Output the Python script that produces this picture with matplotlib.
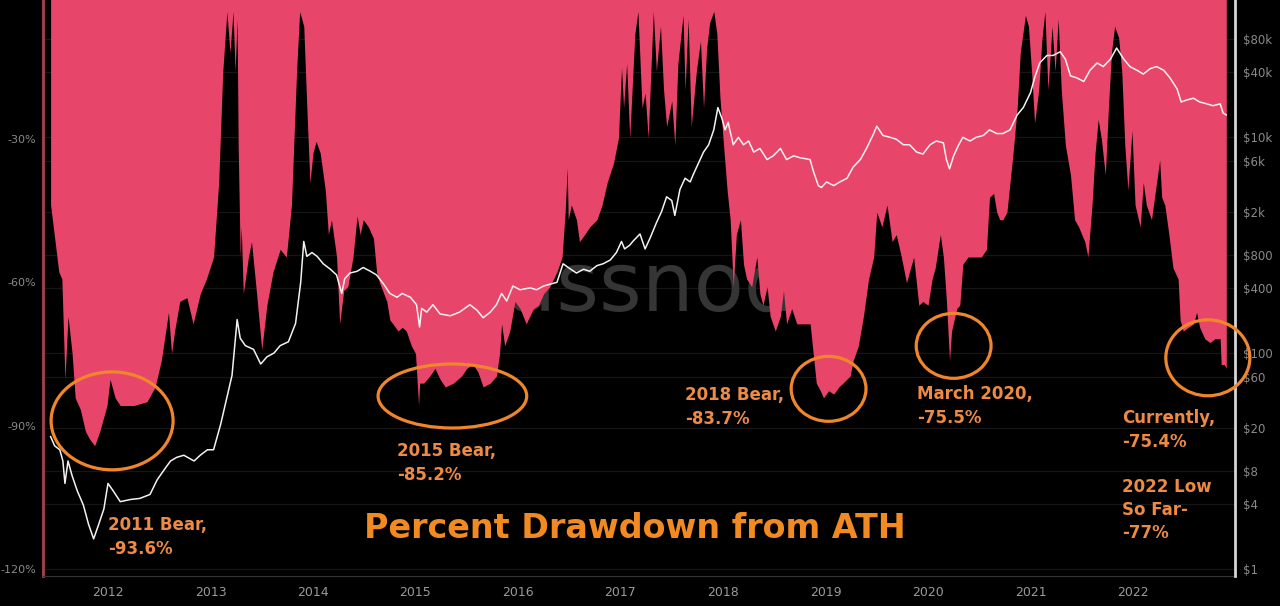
import matplotlib
matplotlib.use("Agg")
import matplotlib.pyplot as plt
from matplotlib.patches import Ellipse
from matplotlib.transforms import blended_transform_factory
from matplotlib.ticker import NullLocator

# ---------------- data ----------------
dd_year = [2011.44, 2011.48, 2011.52, 2011.55, 2011.58, 2011.61, 2011.65, 2011.68, 2011.73, 2011.78,
           2011.82, 2011.87, 2011.92, 2011.99, 2012.02, 2012.07, 2012.12, 2012.25, 2012.38, 2012.46,
           2012.52, 2012.59, 2012.62, 2012.65, 2012.70, 2012.77, 2012.83, 2012.90, 2012.96, 2013.03,
           2013.08, 2013.12, 2013.16, 2013.19, 2013.22, 2013.24, 2013.26, 2013.27, 2013.29, 2013.30,
           2013.32, 2013.37, 2013.40, 2013.45, 2013.50, 2013.55, 2013.61, 2013.68, 2013.74, 2013.79,
           2013.84, 2013.87, 2013.91, 2013.94, 2013.97, 2014.00, 2014.03, 2014.07, 2014.12, 2014.15,
           2014.18, 2014.23, 2014.26, 2014.30, 2014.34, 2014.39, 2014.43, 2014.46, 2014.49, 2014.54,
           2014.59, 2014.62, 2014.65, 2014.72, 2014.75, 2014.78, 2014.83, 2014.87, 2014.91, 2014.96,
           2015.00, 2015.03, 2015.04, 2015.08, 2015.14, 2015.19, 2015.24, 2015.29, 2015.37, 2015.45,
           2015.50, 2015.56, 2015.61, 2015.66, 2015.73, 2015.79, 2015.82, 2015.84, 2015.87, 2015.92,
           2015.97, 2016.02, 2016.08, 2016.15, 2016.20, 2016.25, 2016.31, 2016.38, 2016.43, 2016.46,
           2016.48, 2016.49, 2016.52, 2016.57, 2016.60, 2016.65, 2016.70, 2016.77, 2016.82, 2016.87,
           2016.93, 2016.98, 2017.01, 2017.03, 2017.06, 2017.09, 2017.14, 2017.17, 2017.21, 2017.24,
           2017.27, 2017.32, 2017.35, 2017.39, 2017.42, 2017.45, 2017.50, 2017.53, 2017.56, 2017.61,
           2017.63, 2017.66, 2017.69, 2017.74, 2017.78, 2017.81, 2017.84, 2017.87, 2017.91, 2017.94,
           2017.97, 2018.00, 2018.04, 2018.07, 2018.10, 2018.13, 2018.17, 2018.20, 2018.23, 2018.28,
           2018.33, 2018.36, 2018.39, 2018.43, 2018.46, 2018.51, 2018.56, 2018.59, 2018.62, 2018.67,
           2018.72, 2018.78, 2018.85, 2018.88, 2018.91, 2018.95, 2018.98, 2019.03, 2019.08, 2019.13,
           2019.17, 2019.24, 2019.27, 2019.32, 2019.37, 2019.42, 2019.47, 2019.50, 2019.55, 2019.60,
           2019.65, 2019.69, 2019.74, 2019.79, 2019.86, 2019.91, 2019.95, 2020.00, 2020.04, 2020.07,
           2020.12, 2020.15, 2020.18, 2020.21, 2020.23, 2020.28, 2020.31, 2020.34, 2020.39, 2020.46,
           2020.52, 2020.57, 2020.60, 2020.64, 2020.67, 2020.70, 2020.73, 2020.77, 2020.80, 2020.83,
           2020.87, 2020.90, 2020.95, 2020.98, 2021.01, 2021.04, 2021.08, 2021.11, 2021.14, 2021.17,
           2021.21, 2021.24, 2021.27, 2021.30, 2021.34, 2021.39, 2021.43, 2021.47, 2021.50, 2021.53,
           2021.56, 2021.60, 2021.63, 2021.66, 2021.69, 2021.73, 2021.76, 2021.79, 2021.82, 2021.86,
           2021.89, 2021.92, 2021.95, 2021.99, 2022.02, 2022.07, 2022.10, 2022.13, 2022.18, 2022.23,
           2022.26, 2022.28, 2022.31, 2022.35, 2022.39, 2022.44, 2022.46, 2022.49, 2022.54, 2022.59,
           2022.62, 2022.65, 2022.70, 2022.75, 2022.80, 2022.85, 2022.86, 2022.89, 2022.91]
dd_pct = [-43.8, -50.8, -57.8, -59.3, -80.3, -67.1, -74.9, -84.2, -86.6, -91.2,
          -92.8, -94.2, -91.2, -85.8, -80.3, -84.2, -85.8, -85.8, -85.0, -81.9,
          -76.4, -66.3, -74.9, -70.2, -64.0, -63.2, -68.7, -62.4, -59.3, -54.7,
          -39.1, -15.8, -3.3, -11.9, -3.3, -15.8, -4.9, -31.3, -54.7, -48.4,
          -62.4, -54.7, -51.5, -62.4, -74.1, -64.8, -57.8, -53.1, -54.7, -43.8,
          -15.8, -3.3, -6.4, -23.5, -39.1, -32.9, -30.5, -32.9, -40.7, -50.0,
          -46.9, -54.7, -68.7, -61.7, -60.9, -54.7, -46.1, -50.0, -46.9, -48.4,
          -50.8, -57.8, -60.1, -64.0, -67.9, -68.7, -70.2, -69.4, -70.2, -73.3,
          -74.9, -85.8, -81.1, -81.1, -79.6, -78.0, -80.3, -81.9, -81.1, -79.6,
          -78.0, -77.2, -78.8, -81.9, -81.1, -79.6, -74.9, -68.7, -73.3, -70.2,
          -64.0, -65.5, -68.7, -65.5, -64.8, -62.4, -60.9, -57.8, -54.7, -45.3,
          -36.0, -46.9, -43.8, -46.9, -51.5, -50.0, -48.4, -46.9, -43.8, -39.1,
          -35.2, -29.8, -15.0, -23.5, -14.2, -29.8, -8.0, -3.3, -23.5, -20.4,
          -29.8, -3.3, -15.8, -6.4, -19.7, -27.4, -22.0, -31.3, -14.2, -4.1,
          -19.7, -4.9, -27.4, -15.8, -9.5, -23.5, -11.1, -5.6, -3.3, -8.0,
          -21.2, -29.8, -40.7, -46.9, -60.9, -50.0, -46.9, -56.2, -59.3, -60.9,
          -54.7, -62.4, -64.8, -60.9, -67.1, -70.2, -67.1, -61.7, -68.7, -65.5,
          -68.7, -68.7, -68.7, -74.9, -81.1, -82.7, -84.2, -82.7, -83.4, -81.9,
          -81.1, -79.6, -76.4, -73.3, -67.1, -59.3, -54.7, -45.3, -48.4, -43.8,
          -51.5, -50.0, -54.7, -60.1, -54.7, -64.8, -64.0, -64.8, -59.3, -57.0,
          -50.0, -54.7, -64.0, -76.4, -70.2, -65.5, -64.8, -56.2, -54.7, -54.7,
          -54.7, -53.1, -42.2, -41.4, -45.3, -46.9, -46.9, -45.3, -39.1, -32.9,
          -23.5, -11.9, -4.1, -6.4, -15.8, -26.7, -19.7, -9.5, -3.3, -19.7,
          -6.4, -15.8, -4.9, -19.7, -31.3, -37.5, -46.9, -48.4, -50.0, -51.5,
          -54.7, -43.8, -32.9, -25.9, -29.8, -37.5, -23.5, -11.9, -6.4, -8.8,
          -15.8, -31.3, -40.7, -28.2, -43.8, -48.4, -39.1, -43.8, -46.9, -39.1,
          -34.4, -42.2, -43.8, -50.0, -57.0, -59.3, -67.9, -70.2, -69.4, -68.7,
          -66.3, -69.4, -71.8, -72.6, -71.8, -71.8, -77.2, -77.2, -78.0]

px_year = [2011.44, 2011.48, 2011.53, 2011.56, 2011.58, 2011.61, 2011.65, 2011.70, 2011.76, 2011.81,
           2011.86, 2011.91, 2011.96, 2012.00, 2012.05, 2012.12, 2012.22, 2012.31, 2012.41, 2012.48,
           2012.56, 2012.61, 2012.67, 2012.74, 2012.84, 2012.90, 2012.97, 2013.03, 2013.10, 2013.16,
           2013.21, 2013.26, 2013.29, 2013.34, 2013.42, 2013.49, 2013.55, 2013.62, 2013.68, 2013.76,
           2013.83, 2013.88, 2013.91, 2013.94, 2013.99, 2014.04, 2014.10, 2014.17, 2014.23, 2014.28,
           2014.31, 2014.36, 2014.43, 2014.49, 2014.56, 2014.62, 2014.69, 2014.75, 2014.82, 2014.87,
           2014.95, 2015.01, 2015.04, 2015.06, 2015.11, 2015.17, 2015.24, 2015.34, 2015.43, 2015.53,
           2015.60, 2015.66, 2015.73, 2015.79, 2015.84, 2015.89, 2015.95, 2016.02, 2016.12, 2016.18,
           2016.25, 2016.31, 2016.38, 2016.44, 2016.49, 2016.57, 2016.64, 2016.70, 2016.77, 2016.83,
           2016.90, 2016.96, 2017.01, 2017.04, 2017.09, 2017.12, 2017.19, 2017.24, 2017.29, 2017.35,
           2017.40, 2017.45, 2017.50, 2017.53, 2017.58, 2017.63, 2017.68, 2017.71, 2017.76, 2017.81,
           2017.86, 2017.91, 2017.95, 2017.99, 2018.02, 2018.05, 2018.10, 2018.15, 2018.20, 2018.25,
           2018.30, 2018.36, 2018.43, 2018.49, 2018.56, 2018.62, 2018.69, 2018.75, 2018.85, 2018.88,
           2018.93, 2018.96, 2019.01, 2019.08, 2019.14, 2019.21, 2019.27, 2019.34, 2019.40, 2019.47,
           2019.50, 2019.56, 2019.63, 2019.69, 2019.76, 2019.82, 2019.89, 2019.95, 2020.02, 2020.08,
           2020.15, 2020.18, 2020.21, 2020.25, 2020.30, 2020.34, 2020.41, 2020.47, 2020.54, 2020.60,
           2020.67, 2020.73, 2020.80, 2020.87, 2020.93, 2021.00, 2021.04, 2021.09, 2021.16, 2021.22,
           2021.29, 2021.34, 2021.39, 2021.45, 2021.52, 2021.58, 2021.65, 2021.71, 2021.78, 2021.84,
           2021.91, 2021.97, 2022.04, 2022.10, 2022.17, 2022.23, 2022.30, 2022.36, 2022.43, 2022.47,
           2022.52, 2022.59, 2022.65, 2022.72, 2022.78, 2022.85, 2022.88, 2022.91]
price = [16.8, 13.8, 12.7, 10.0, 6.2, 10.0, 7.3, 5.3, 3.9, 2.6,
         1.9, 2.6, 3.6, 6.2, 5.3, 4.2, 4.4, 4.5, 4.9, 6.7,
         8.6, 10.0, 10.8, 11.3, 10.0, 11.3, 12.7, 12.7, 22, 38.6,
         62, 204, 137, 117, 108, 79, 92, 100, 117, 127,
         188, 451, 1079, 785, 851, 785, 670, 596, 528, 356,
         488, 550, 571, 619, 571, 528, 433, 356, 328, 356,
         328, 280, 174, 259, 239, 280, 230, 221, 239, 280,
         249, 212, 239, 280, 356, 303, 417, 385, 401, 385,
         417, 433, 451, 670, 619, 550, 596, 571, 644, 670,
         726, 851, 1079, 920, 996, 1079, 1265, 920, 1167, 1603,
         2033, 2793, 2582, 1879, 3273, 4151, 3836, 4498, 5703, 7244,
         8477, 11640, 18750, 14790, 11640, 13650, 8477, 9930, 8477, 9180,
         7244, 7830, 6180, 6690, 7830, 6180, 6690, 6430, 6180, 4870,
         3545, 3405, 3836, 3545, 3836, 4151, 5270, 6180, 7830, 10760,
         12610, 10340, 9930, 9550, 8477, 8477, 7244, 6950, 8477, 9180,
         8830, 6180, 5070, 6690, 8477, 9930, 9180, 9930, 10340, 11640,
         10760, 10760, 11640, 16000, 18750, 25760, 35330, 48530, 56900, 56900,
         61530, 52590, 36800, 35330, 32660, 41420, 48530, 44870, 52590, 66680,
         52590, 44870, 41420, 38250, 43080, 44870, 41420, 35330, 27870, 21100,
         21970, 22860, 21100, 20280, 19480, 20280, 16640, 16000]

year_ticks = [2012, 2013, 2014, 2015, 2016, 2017, 2018, 2019, 2020, 2021, 2022]
year_labels = ["2012", "2013", "2014", "2015", "2016", "2017", "2018", "2019", "2020", "2021", "2022"]
dd_ticks = [-30, -60, -90, -120]
dd_labels = ["-30%", "-60%", "-90%", "-120%"]
price_ticks = [80000, 40000, 10000, 6000, 2000, 800, 400, 100, 60, 20, 8, 4, 1]
price_labels = ["$80k", "$40k", "$10k", "$6k", "$2k", "$800", "$400", "$100", "$60", "$20", "$8", "$4", "$1"]

# annotations: (year, pct, width_years, height_pct)
circles = [(2012.04, -89.0, 1.19, 20.5),
           (2015.36, -83.8, 1.45, 13.4),
           (2019.03, -82.3, 0.73, 13.6),
           (2020.25, -73.3, 0.73, 13.6),
           (2022.73, -75.8, 0.82, 15.9)]
notes = [("2011 Bear,\n-93.6%", 108, 537),
         ("2015 Bear,\n-85.2%", 397, 463),
         ("2018 Bear,\n-83.7%", 685, 407),
         ("March 2020,\n-75.5%", 917, 406),
         ("Currently,\n-75.4%", 1122, 430),
         ("2022 Low\nSo Far-\n-77%", 1122, 510)]

PINK = "#E8456A"
ORANGE = "#F0862C"
NOTE_COL = "#EC8A46"
W, H = 1280, 606

plt.rcParams["font.family"] = ["DejaVu Sans"]

fig = plt.figure(figsize=(12.8, 6.06), dpi=100, facecolor="black")
ax = fig.add_axes([43 / W, 1 - 576 / H, (1235 - 43) / W, 576 / H])
ax.set_facecolor("black")
ax.set_xlim(2011.366, 2022.995)
ax.set_ylim(-121.48, -0.90)

ax2 = ax.twinx()
ax2.set_yscale("log")
ax2.set_ylim(0.861, 185600)

# faint grid at price ticks, under the pink fill
gtrans = blended_transform_factory(ax.transAxes, ax2.transData)
for p in price_ticks:
    ax.plot([0, 1], [p, p], transform=gtrans, color="#161616", lw=0.9, zorder=0.4)

# watermark (visible only in black areas)
ax.text(0.5, 0.5, "glassnode", transform=ax.transAxes, ha="center", va="center",
        fontsize=59, color="#353535", zorder=0.6)

# drawdown: pink above the line, black below
ax.fill_between(dd_year, dd_pct, 10, color=PINK, lw=0, zorder=1)

# price line
ax2.plot(px_year, price, color="#f2f2f2", lw=1.1, zorder=3)

# ticks
ax.set_xticks(year_ticks)
ax.set_xticklabels(year_labels)
ax.set_yticks(dd_ticks)
ax.set_yticklabels(dd_labels)
ax.tick_params(axis="x", length=0, pad=7, labelcolor="#9a9a9a", labelsize=9)
ax.tick_params(axis="y", length=0, pad=5, labelcolor="#8a8a8a", labelsize=8)
ax2.set_yticks(price_ticks)
ax2.set_yticklabels(price_labels)
ax2.yaxis.set_minor_locator(NullLocator())
ax2.tick_params(axis="y", which="both", length=0, pad=6, labelcolor="#8a8a8a", labelsize=8.5)

# spines
for s in ["top", "right"]:
    ax.spines[s].set_visible(False)
for s in ["top", "left"]:
    ax2.spines[s].set_visible(False)
ax.spines["left"].set_color("#a8404f")
ax.spines["left"].set_linewidth(2)
ax.spines["bottom"].set_color("#333333")
ax.spines["bottom"].set_linewidth(0.8)
ax2.spines["bottom"].set_visible(False)
ax2.spines["right"].set_color("#d6d6d6")
ax2.spines["right"].set_linewidth(2)

# circles
for (cx, cy, cw, ch) in circles:
    e = Ellipse((cx, cy), cw, ch, fill=False, ec=ORANGE, lw=2.3,
                transform=ax.transData, clip_on=False, zorder=5)
    ax2.add_patch(e)

# notes
for txt, x, y in notes:
    fig.text(x / W, 1 - y / H, txt, ha="left", va="center", fontsize=12,
             fontweight="bold", color=NOTE_COL, linespacing=1.38)

fig.text(635 / W, 1 - 528 / H, "Percent Drawdown from ATH", ha="center", va="center",
         fontsize=24, fontweight="bold", color="#F28A22")

fig.savefig("out.png", dpi=100, facecolor="black")
